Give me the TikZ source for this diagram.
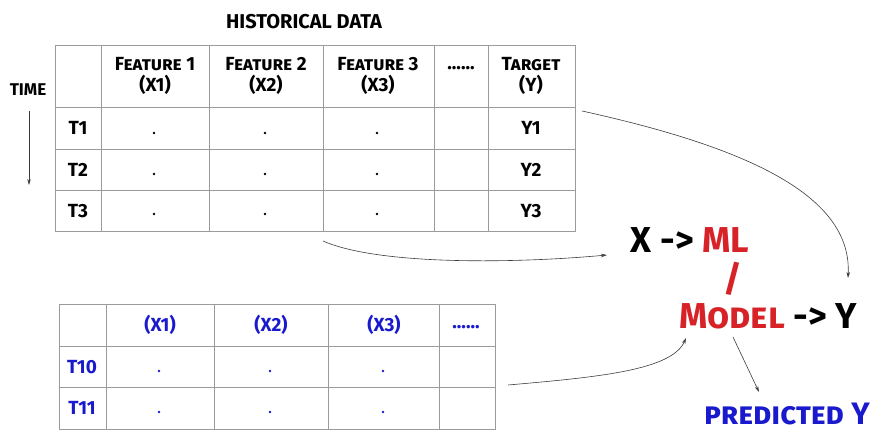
\documentclass[tikz,border=0pt]{standalone}
\usepackage{fontspec}
\setmainfont{Fira Sans}
\usetikzlibrary{arrows.meta}
\definecolor{gridgray}{RGB}{155,155,155}
\definecolor{linegray}{RGB}{60,60,60}
\definecolor{mlred}{RGB}{215,35,40}
\definecolor{mlblue}{RGB}{25,25,205}
\tikzset{
  grid/.style={draw=gridgray, line width=0.8pt},
  frame/.style={grid, inner sep=0pt, anchor=north west},
  txt/.style={font=\bfseries\fontsize{19}{21}\selectfont, inner sep=0pt, align=center},
  btxt/.style={txt, text=mlblue},
  big/.style={font=\bfseries\fontsize{36}{38}\selectfont, inner sep=0pt},
  dotn/.style={circle, fill=black, inner sep=0pt, minimum size=2.6pt},
  bdotn/.style={dotn, fill=mlblue},
  conn/.style={draw=linegray, line width=0.6pt, -{Stealth[length=6pt,width=3.5pt]}},
}
\begin{document}
\begin{tikzpicture}[x=1pt,y=-1pt]
\useasboundingbox (0,0) rectangle (879,433);
\fill[white] (0,0) rectangle (879,433);

% ---------- title and time axis
\node[txt, font=\bfseries\fontsize{20}{22}\selectfont] (title) at (304,22) {HISTORICAL DATA};
\node[txt, font=\bfseries\fontsize{17}{19}\selectfont] (time) at (28,90) {TIME};
\coordinate (ta) at (29,111);
\coordinate (tb) at (29,185);
\draw[conn] (ta) -- (tb);

% ---------- top table
\node[frame, minimum width=520pt, minimum height=186pt] (top) at (55,45) {};
\foreach \x in {101,209,323,434,488} \draw[grid] (\x,45) -- (\x,231);
\foreach \y in {107,149,190} \draw[grid] (55,\y) -- (575,\y);

\node[txt] (h1) at (155,76) {\textsc{Feature 1}\\(X1)};
\node[txt] (h2) at (266,76) {\textsc{Feature 2}\\(X2)};
\node[txt] (h3) at (378,76) {\textsc{Feature 3}\\(X3)};
\node[txt] (h4) at (461,68) {......};
\node[txt] (h5) at (531,76) {\textsc{Target}\\(Y)};

\node[txt] (r1) at (78,128) {T1};
\node[txt] (r2) at (78,170) {T2};
\node[txt] (r3) at (78,211) {T3};
\node[txt] (y1) at (531,128) {Y1};
\node[txt] (y2) at (531,170) {Y2};
\node[txt] (y3) at (531,211) {Y3};

\foreach \r/\y in {1/133,2/174,3/214}{
  \node[dotn] (a\r) at (154,\y) {};
  \node[dotn] (b\r) at (265,\y) {};
  \node[dotn] (c\r) at (377,\y) {};
}

% ---------- bottom table
\node[frame, minimum width=436pt, minimum height=125pt] (bot) at (59,304) {};
\foreach \x in {106,214,328,439} \draw[grid] (\x,304) -- (\x,429);
\foreach \y in {346,387} \draw[grid] (59,\y) -- (495,\y);

\node[btxt] (g1) at (160,325) {(X1)};
\node[btxt] (g2) at (271,325) {(X2)};
\node[btxt] (g3) at (384,325) {(X3)};
\node[btxt] (g4) at (466,327) {......};
\node[btxt] (s1) at (82,367) {T10};
\node[btxt] (s2) at (82,408) {T11};
\foreach \r/\y in {1/371,2/412}{
  \node[bdotn] (p\r) at (159,\y) {};
  \node[bdotn] (q\r) at (270,\y) {};
  \node[bdotn] (u\r) at (383,\y) {};
}

% ---------- right side
\node[big] (xml) at (690,240) {X -> \textcolor{mlred}{ML}};
\node[big, text=mlred] (slash) at (733,279) {/};
\node[big] (model) at (768,316) {\textcolor{mlred}{\textsc{Model}} -> Y};
\node[big, text=mlblue, font=\bfseries\fontsize{31}{33}\selectfont] (pred) at (787,414) {\textsc{predicted Y}};

% ---------- connectors
\coordinate (c1s) at (582,111);
\coordinate (c1e) at (848,278);
\draw[conn] (c1s) .. controls (760,150) and (852,200) .. (c1e);
\coordinate (c2s) at (323,241);
\coordinate (c2e) at (607,255);
\draw[conn] (c2s) .. controls (380,266) and (520,263) .. (c2e);
\coordinate (c3s) at (508,385);
\coordinate (c3e) at (686,338);
\draw[conn] (c3s) .. controls (600,377) and (672,370) .. (c3e);
\coordinate (c4s) at (733,337);
\coordinate (c4e) at (759,392);
\draw[conn] (c4s) -- (c4e);
\end{tikzpicture}
\end{document}
